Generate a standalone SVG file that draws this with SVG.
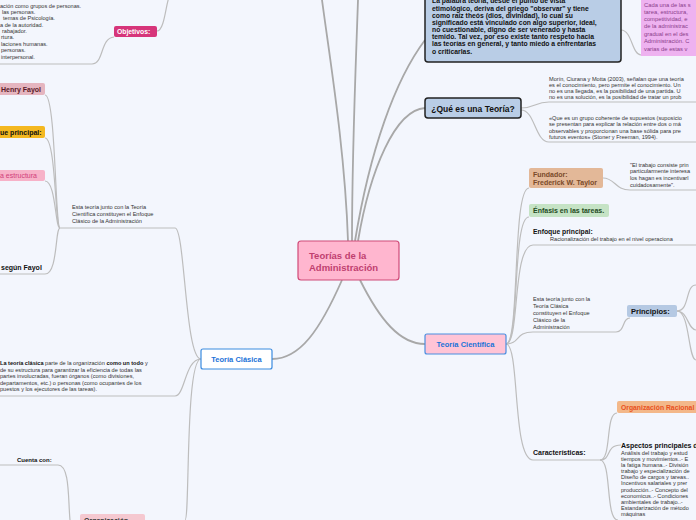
<svg xmlns="http://www.w3.org/2000/svg" width="696" height="520" viewBox="0 0 696 520">
<style>
text{font-family:"Liberation Sans",Verdana,sans-serif}
.c{fill:none;stroke:#bdbdbd;stroke-width:1.2}
.m{fill:none;stroke:#a8a8a8;stroke-width:1.8}
.s{font-size:5.6px;fill:#333}
.b{font-weight:bold}
</style>
<rect width="696" height="520" fill="#f3f6fd"/>
<g id="connectors">
<path class="m" d="M348,241 C345,150 330,60 322,0"/>
<path class="m" d="M352,241 C352,150 356,60 358,0"/>
<path class="m" d="M355,241 C370,150 395,80 425,40"/>
<path class="m" d="M358,241 C370,170 395,110 425,108"/>
<path class="m" d="M342,280 C320,330 300,359 272,359"/>
<path class="m" d="M360,280 C380,320 400,344 425,344"/>
<path class="c" d="M621,30 C632,30 632,55 641,55"/>
<path class="c" d="M521,108 C535,108 535,102 549,102 L696,102"/>
<path class="c" d="M521,110 C535,110 535,142 549,142 L696,142"/>
<path class="c" d="M506,344 C520,344 512,188 529,188"/>
<path class="c" d="M603,178 C615,178 615,190 630,190 L696,190"/>
<path class="c" d="M506,344 C520,344 512,217 529,217"/>
<path class="c" d="M506,344 C520,344 512,245 533,245 L696,245"/>
<path class="c" d="M506,344 C520,344 515,332 533,332 L616,332 C625,332 622,318 630,318"/>
<path class="c" d="M677,311 C690,311 685,285 696,285"/>
<path class="c" d="M677,311 C688,311 688,330 696,330"/>
<path class="c" d="M677,311 C690,311 688,360 696,360"/>
<path class="c" d="M506,344 C520,344 512,460 533,460 L600,460 C612,460 605,413 617,413"/>
<path class="c" d="M600,460 C612,460 605,445 621,445"/>
<path class="c" d="M600,460 C612,460 605,520 618,520"/>
<path class="c" d="M0,64 L92,64 C104,64 100,38 114,37"/>
<path class="c" d="M157,31 C165,31 166,0 170,-5"/>
<path class="c" d="M201,359 C185,359 185,228 175,228 L60,228"/>
<path class="c" d="M201,359 C185,359 185,396 175,396 L0,396"/>
<path class="c" d="M201,359 C185,359 190,520 185,520"/>
<path class="c" d="M60,228 C55,228 56,95 45,95"/>
<path class="c" d="M60,228 C55,228 56,138 45,138"/>
<path class="c" d="M60,228 C55,228 56,181 45,181"/>
<path class="c" d="M60,228 C55,228 58,274 45,274 L0,274"/>
<path class="c" d="M0,465 L58,465 C70,465 68,500 70,520"/>
</g>
<g id="central"><rect x="298" y="241" width="101" height="39" rx="3" fill="#ffb6cf" stroke="#d04a78" stroke-width="1.2"/>
<text x="309" y="259" font-size="9.5" class="b" fill="#c0406f">Teorías de la</text><text x="309" y="271" font-size="9.5" class="b" fill="#c0406f">Administración</text></g>
<g id="clasica"><rect x="201" y="349" width="71" height="20" rx="2" fill="#fff" stroke="#3b8be0" stroke-width="1.2"/><text x="236.5" y="362" font-size="7.5" class="b" fill="#1a73d8" text-anchor="middle">Teoría Clásica</text></g>
<g id="cientifica"><rect x="425" y="334" width="81" height="20" rx="2" fill="#ffc4d6" stroke="#4a8ee0" stroke-width="1.2"/><text x="465.5" y="347" font-size="7.5" class="b" fill="#1a73d8" text-anchor="middle">Teoría Científica</text></g>
<g id="que"><rect x="425" y="98" width="96" height="20" rx="3" fill="#b9cde6" stroke="#222" stroke-width="1.5"/><text x="473" y="111.5" font-size="8.5" class="b" fill="#111" text-anchor="middle">¿Qué es una Teoría?</text></g>
<g id="palabra"><rect x="425" y="-10" width="196" height="72" rx="3" fill="#b9cde6" stroke="#222" stroke-width="1.5"/>
<g font-size="6.8" class="b" fill="#111"><text x="432" y="3">La palabra teoría, desde el punto de vista</text><text x="432" y="11">etimológico, deriva del griego "observar" y tiene</text><text x="432" y="18">como raíz theós (dios, divinidad), lo cual su</text><text x="432" y="25">significado está vinculado con algo superior, ideal,</text><text x="432" y="32">no cuestionable, digno de ser venerado y hasta</text><text x="432" y="39">temido. Tal vez, por eso existe tanto respeto hacia</text><text x="432" y="46">las teorías en general, y tanto miedo a enfrentarlas</text><text x="432" y="54">o criticarlas.</text></g></g>
<g id="cada"><rect x="641" y="-5" width="60" height="61" fill="#eeb2f0"/>
<g font-size="5.8" fill="#8a3d8a"><text x="644" y="7">Cada una de las s</text><text x="644" y="14">tarea, estructura,</text><text x="644" y="21">competitividad, e</text><text x="644" y="28">de la administrac</text><text x="644" y="36">gradual en el des</text><text x="644" y="43">Administración. C</text><text x="644" y="51">varias de estas v</text></g></g>
<g id="morin" class="s"><text x="549" y="81">Morín, Ciurana y Motta (2003), señalan que una teoría</text><text x="549" y="87">es el conocimiento, pero permite el conocimiento. Un</text><text x="549" y="93">no es una llegada, es la posibilidad de una partida. U</text><text x="549" y="99">no es una solución, es la posibilidad de tratar un prob</text></g>
<g id="stoner" class="s"><text x="549" y="120">«Que es un grupo coherente de supuestos (suposicio</text><text x="549" y="126">se presentan para explicar la relación entre dos o má</text><text x="549" y="133">observables y proporcionan una base sólida para pre</text><text x="549" y="139">futuros eventos» (Stoner y Freeman, 1994).</text></g>
<g id="fundador"><rect x="529" y="168" width="74" height="20" rx="2" fill="#e3b898"/><text x="533" y="177" font-size="7" class="b" fill="#7a4a2a">Fundador:</text><text x="533" y="184.5" font-size="7" class="b" fill="#7a4a2a">Frederick W. Taylor</text></g>
<g id="quote" class="s"><text x="630" y="167">"El trabajo consiste prin</text><text x="630" y="173">particularmente interesa</text><text x="630" y="180">los hagan es incentivarl</text><text x="630" y="187">cuidadosamente".</text></g>
<g id="enfasis"><rect x="529" y="204" width="80" height="13" rx="2" fill="#c5e3c5"/><text x="533" y="213" font-size="7" class="b" fill="#234a23">Énfasis en las tareas.</text></g>
<g id="enfoque"><text x="533" y="234" font-size="6.8" class="b" fill="#111">Enfoque principal:</text><text x="550" y="241" class="s">Racionalización del trabajo en el nivel operaciona</text></g>
<g id="esta2" class="s"><text x="533" y="301">Esta teoría junto con la</text><text x="533" y="308">Teoría Clásica</text><text x="533" y="315">constituyen el Enfoque</text><text x="533" y="322">Clásico de la</text><text x="533" y="329">Administración</text></g>
<g id="principios"><rect x="627" y="305" width="50" height="12" rx="2" fill="#b5c9e3"/><text x="631" y="314" font-size="7.5" class="b" fill="#111">Principios:</text></g>
<g id="orgrac"><rect x="617" y="401" width="85" height="12" rx="2" fill="#f3b88a"/><text x="621" y="410" font-size="6.8" class="b" fill="#e8501e">Organización Racional</text></g>
<g id="caract"><text x="533" y="455" font-size="7" class="b" fill="#111">Características:</text></g>
<g id="aspectos"><text x="621" y="448" font-size="7" class="b" fill="#111">Aspectos principales d</text>
<g class="s"><text x="621" y="455">Análisis del trabajo y estud</text><text x="621" y="461">tiempos y movimientos..- E</text><text x="621" y="467">la fatiga humana..- División</text><text x="621" y="473">trabajo y especialización de</text><text x="621" y="479">Diseño de cargos y tareas..</text><text x="621" y="485">Incentivos salariales y prer</text><text x="621" y="492">producción..- Concepto del</text><text x="621" y="498">economicus..- Condiciones</text><text x="621" y="504">ambientales de trabajo..-</text><text x="621" y="510">Estandarización de método</text><text x="621" y="516">máquinas</text></g></g>
<g id="objlist" class="s"><text x="0" y="8">ación como grupos de personas.</text><text x="2" y="14">las personas.</text><text x="3" y="20">temas de Psicología.</text><text x="0" y="27">a de la autoridad.</text><text x="2" y="33">rabajador.</text><text x="1" y="39">rtura.</text><text x="1" y="46">laciones humanas.</text><text x="1" y="52"> personas.</text><text x="1" y="59"> interpersonal.</text></g>
<g id="objetivos"><rect x="114" y="26" width="43" height="11" rx="2" fill="#d6357a"/><text x="117" y="34" font-size="6.8" class="b" fill="#fff">Objetivos:</text></g>
<g id="fayol"><rect x="-5" y="83" width="50" height="12" rx="2" fill="#e5b5bf"/><text x="1" y="92" font-size="7" class="b" fill="#5a1a2a">Henry Fayol</text></g>
<g id="enfoque2"><rect x="-5" y="126" width="50" height="12" rx="2" fill="#f4b820"/><text x="0" y="135" font-size="7" class="b" fill="#111">ue principal:</text></g>
<g id="estructura"><rect x="-5" y="170" width="50" height="11" rx="2" fill="#f7b2c8"/><text x="0" y="178" font-size="7" fill="#d0407a">a estructura</text></g>
<g id="segun"><text x="1" y="270" font-size="7" class="b" fill="#111">según Fayol</text></g>
<g id="esta1" class="s"><text x="72" y="209">Esta teoría junto con la Teoría</text><text x="72" y="216">Científica constituyen el Enfoque</text><text x="72" y="223">Clásico de la Administración</text></g>
<g id="clasicatxt" class="s"><text x="0" y="365"><tspan class="b" fill="#111">La teoría clásica</tspan> parte de la organización <tspan class="b" fill="#111">como un todo</tspan> y</text><text x="0" y="372">de su estructura para garantizar la eficiencia de todas las</text><text x="0" y="378">partes involucradas, fueran órganos (como divisiones,</text><text x="0" y="385">departamentos, etc.) o personas (como ocupantes de los</text><text x="0" y="391">puestos y los ejecutores de las tareas).</text></g>
<g id="cuenta"><text x="17" y="462" font-size="6" class="b" fill="#111">Cuenta con:</text></g>
<g id="orgbottom"><rect x="80" y="514" width="65" height="12" rx="2" fill="#f5c8d0"/><text x="84" y="523" font-size="7" class="b" fill="#333">Organización</text></g>
</svg>
